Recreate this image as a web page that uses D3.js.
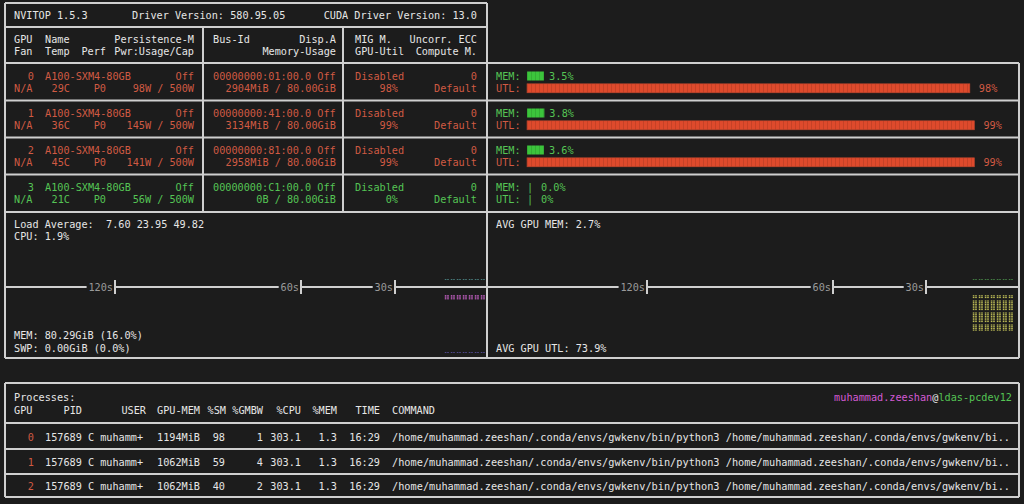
<!DOCTYPE html>
<html>
<head>
<meta charset="utf-8">
<script src="https://cdn.jsdelivr.net/npm/d3@7"></script>
<style>
  body { margin: 0; background: #1c1c1c; }
  svg text { font-family: "DejaVu Sans Mono", monospace; font-size: 10.2px; }
</style>
</head>
<body>
<svg id="term" width="1024" height="504"></svg>
<script>
// ---- data ----
var gpuIds = ["0", "1", "2", "3"];
var gpuNames = ["A100-SXM4-80GB", "A100-SXM4-80GB", "A100-SXM4-80GB", "A100-SXM4-80GB"];
var gpuTemps = ["29C", "36C", "45C", "21C"];
var gpuPower = ["98W / 500W", "145W / 500W", "141W / 500W", "56W / 500W"];
var gpuBus = ["00000000:01:00.0 Off", "00000000:41:00.0 Off", "00000000:81:00.0 Off", "00000000:C1:00.0 Off"];
var gpuMemUsage = ["2904MiB / 80.00GiB", "3134MiB / 80.00GiB", "2958MiB / 80.00GiB", "0B / 80.00GiB"];
var gpuMemPct = [3.5, 3.8, 3.6, 0.0];
var gpuUtilPct = [98, 99, 99, 0];
var gpuBusy = [true, true, true, false];

var axisLabels = ["120s", "60s", "30s"];
var cpuHistory = [1.9, 1.9, 1.9, 1.9, 1.9, 1.9, 1.9];
var memHistory = [16.0, 16.0, 16.0, 16.0, 16.0, 16.0, 16.0];
var swpHistory = [0, 0, 0, 0, 0, 0, 0];
var gpuMemHistory = [2.7, 2.7, 2.7, 2.7, 2.7, 2.7, 2.7];
var gpuUtlHistory = [74, 74, 74, 74, 74, 74, 74];

var procGpu = ["0", "1", "2"];
var procPid = ["157689", "157689", "157689"];
var procMem = ["1194MiB", "1062MiB", "1062MiB"];
var procSm = ["98", "59", "40"];
var procGmbw = ["1", "4", "2"];
var procCpu = ["303.1", "303.1", "303.1"];
var procPmem = ["1.3", "1.3", "1.3"];
var procTime = ["16:29", "16:29", "16:29"];
var procCmd = "/home/muhammad.zeeshan/.conda/envs/gwkenv/bin/python3 /home/muhammad.zeeshan/.conda/envs/gwkenv/bi..";

// ---- drawing ----
var WHITE = "#e6e6e6", RED = "#d05a43", GREEN = "#55c455", BORDER = "#cfcfcf";
var svg = d3.select("#term");
svg.append("rect").attr("width", 1024).attr("height", 504).attr("fill", "#1c1c1c");

var defs = svg.append("defs");
function stripes(id, color) {
  var p = defs.append("pattern").attr("id", id).attr("width", 4).attr("height", 10)
    .attr("patternUnits", "userSpaceOnUse");
  p.append("rect").attr("width", 4).attr("height", 10).attr("fill", color);
  p.append("rect").attr("x", 3.4).attr("width", 0.6).attr("height", 10).attr("fill", "#000").attr("opacity", 0.18);
}
stripes("redbar", "#de4a2c");
stripes("greenbar", "#3cc43c");
// braille-like dot cells: 2 dots wide per 6px column, one row per h px
function dots(id, color, h, rows) {
  var p = defs.append("pattern").attr("id", id).attr("width", 6).attr("height", h)
    .attr("patternUnits", "userSpaceOnUse");
  for (var r = 0; r < rows; r++) {
    p.append("rect").attr("x", 0.8).attr("y", 0.4 + r * 1.7).attr("width", 1.6).attr("height", 1.2).attr("fill", color);
    p.append("rect").attr("x", 3.2).attr("y", 0.4 + r * 1.7).attr("width", 1.6).attr("height", 1.2).attr("fill", color);
  }
}
dots("dotCyan", "#62b8b8", 3, 1);
dots("dotMag", "#c65fc6", 1.7, 1);
dots("dotPurp", "#6b5fd0", 3, 1);
dots("dotGreen", "#5cbf5c", 3, 1);
dots("dotYel", "#bdbc55", 12, 6);

var g = svg.append("g");
function txt(x, y, s, color, anchor) {
  return g.append("text").attr("x", x).attr("y", y + 3.6).attr("fill", color || WHITE)
    .attr("text-anchor", anchor || "start").attr("xml:space", "preserve").text(s);
}
function hline(x1, x2, y) {
  g.append("line").attr("x1", x1).attr("x2", x2).attr("y1", y).attr("y2", y)
    .attr("stroke", BORDER).attr("stroke-width", 2);
}
function vline(x, y1, y2) {
  g.append("line").attr("x1", x).attr("x2", x).attr("y1", y1).attr("y2", y2)
    .attr("stroke", BORDER).attr("stroke-width", 2);
}

// GPU table borders
var rowY = [76, 113, 150, 187];
hline(5, 487, 3); hline(5, 487, 27); hline(5, 1019, 63);
[100.5, 137.5, 174.5].forEach(function (y) { hline(5, 1019, y); });
vline(5, 3, 212); vline(487, 3, 212); vline(1019, 63, 212);
vline(203, 27, 212); vline(343, 27, 212);

txt(14, 15, "NVITOP 1.5.3");
txt(132, 15, "Driver Version: 580.95.05");
txt(477, 15, "CUDA Driver Version: 13.0", WHITE, "end");
txt(14, 39, "GPU"); txt(45, 39, "Name"); txt(194, 39, "Persistence-M", WHITE, "end");
txt(14, 51, "Fan"); txt(45, 51, "Temp"); txt(106, 51, "Perf", WHITE, "end"); txt(194, 51, "Pwr:Usage/Cap", WHITE, "end");
txt(213, 39, "Bus-Id"); txt(336, 39, "Disp.A", WHITE, "end"); txt(336, 51, "Memory-Usage", WHITE, "end");
txt(355, 39, "MIG M."); txt(477, 39, "Uncorr. ECC", WHITE, "end");
txt(355, 51, "GPU-Util"); txt(477, 51, "Compute M.", WHITE, "end");

var xBar = d3.scaleLinear().domain([0, 100]).range([527, 984]);
gpuIds.forEach(function (id, i) {
  var y1 = rowY[i], y2 = rowY[i] + 12.3;
  var c = gpuBusy[i] ? RED : GREEN;
  txt(34, y1, id, c, "end");
  txt(45, y1, gpuNames[i], c);
  txt(194, y1, "Off", c, "end");
  txt(213, y1, gpuBus[i], c);
  txt(355, y1, "Disabled", c);
  txt(477, y1, "0", c, "end");
  txt(14, y2, "N/A", c);
  txt(70, y2, gpuTemps[i], c, "end");
  txt(106, y2, "P0", c, "end");
  txt(194, y2, gpuPower[i], c, "end");
  txt(336, y2, gpuMemUsage[i], c, "end");
  txt(398, y2, gpuUtilPct[i] + "%", c, "end");
  txt(477, y2, "Default", c, "end");

  txt(496, y1, "MEM:", GREEN);
  txt(496, y2, "UTL:", c);
  // MEM bar (at least a few cells wide, as the terminal does)
  if (gpuMemPct[i] > 0) {
    var mEnd = Math.max(xBar(gpuMemPct[i]), 544);
    g.append("rect").attr("x", xBar(0)).attr("y", y1 - 4.5).attr("width", mEnd - xBar(0))
      .attr("height", 9).attr("fill", "url(#greenbar)");
    txt(mEnd + 5, y1, gpuMemPct[i].toFixed(1) + "%", GREEN);
  } else {
    txt(527, y1, "|", GREEN);
    txt(541, y1, gpuMemPct[i].toFixed(1) + "%", GREEN);
  }
  if (gpuUtilPct[i] > 0) {
    var uEnd = xBar(gpuUtilPct[i]) - 5;
    g.append("rect").attr("x", xBar(0)).attr("y", y2 - 4.5).attr("width", uEnd - xBar(0))
      .attr("height", 9).attr("fill", "url(#redbar)")
      .attr("stroke", "#b8442c").attr("stroke-width", 0.6);
    txt(uEnd + 9, y2, gpuUtilPct[i] + "%", c);
  } else {
    txt(527, y2, "|", GREEN);
    txt(541, y2, gpuUtilPct[i] + "%", GREEN);
  }
});

// ---- history panels ----
hline(5, 1019, 212); hline(5, 1019, 358);
vline(5, 212, 358); vline(1019, 212, 358); vline(487, 212, 358);
var axisY = 287;
hline(5, 1019, axisY);
var panels = [
  { x0: 5, tick: [115, 301, 395] },
  { x0: 487, tick: [647, 833, 926] }
];
panels.forEach(function (p) {
  axisLabels.forEach(function (lab, j) {
    g.append("rect").attr("x", p.tick[j] - lab.length * 6.1 - 4).attr("y", axisY - 5)
      .attr("width", lab.length * 6.1 + 3).attr("height", 10).attr("fill", "#1c1c1c");
    txt(p.tick[j] - 2, axisY, lab, "#9a9a9a", "end");
    vline(p.tick[j], axisY - 7, axisY + 7);
  });
});
txt(14, 224, "Load Average:  7.60 23.95 49.82");
txt(14, 236, "CPU: 1.9%");
txt(14, 335, "MEM: 80.29GiB (16.0%)");
txt(14, 348, "SWP: 0.00GiB (0.0%)");
txt(496, 224, "AVG GPU MEM: 2.7%");
txt(496, 348, "AVG GPU UTL: 73.9%");

var colX = d3.scaleBand().domain(d3.range(7)).paddingInner(0);
var upH = d3.scaleLinear().domain([0, 100]).range([0, 60]);
var dnH = d3.scaleLinear().domain([0, 100]).range([0, 64]);
function history(vals, xs, xe, mode, fill, minH) {
  colX.range([xs, xe]);
  vals.forEach(function (v, k) {
    var h, y;
    if (mode === "up") { h = Math.max(minH, upH(v)); y = axisY - 7 - h; }
    else if (mode === "down") { h = Math.max(minH, dnH(v) * 0.45); y = axisY + 8; }
    else { h = Math.max(minH, dnH(v)); y = 354 - h; }
    g.append("rect").attr("x", colX(k)).attr("y", y).attr("width", colX.bandwidth())
      .attr("height", h).attr("fill", fill);
  });
}
history(cpuHistory, 443, 485, "up", "url(#dotCyan)", 2);
history(memHistory, 443, 485, "down", "url(#dotMag)", 2);
history(swpHistory, 443, 485, "bottom", "url(#dotPurp)", 2);
history(gpuMemHistory, 972, 1014, "up", "url(#dotGreen)", 2);
colX.range([972, 1014]);
gpuUtlHistory.forEach(function (v, k) {
  var h = Math.round(dnH(v) * 0.72 / 12) * 12;
  g.append("rect").attr("x", colX(k)).attr("y", axisY + 8).attr("width", colX.bandwidth())
    .attr("height", h).attr("fill", "url(#dotYel)");
});

// ---- processes ----
hline(5, 1019, 383); hline(5, 1019, 423); hline(5, 1019, 449); hline(5, 1019, 474); hline(5, 1019, 497);
vline(5, 383, 497); vline(1019, 383, 497);
txt(14, 397, "Processes:");
var host = g.append("text").attr("x", 1012).attr("y", 397 + 3.6).attr("text-anchor", "end");
host.append("tspan").attr("fill", "#d35ad3").text("muhammad.zeeshan");
host.append("tspan").attr("fill", WHITE).text("@");
host.append("tspan").attr("fill", GREEN).text("ldas-pcdev12");
var hy = 410;
txt(14, hy, "GPU"); txt(82, hy, "PID", WHITE, "end"); txt(146, hy, "USER", WHITE, "end");
txt(200, hy, "GPU-MEM", WHITE, "end"); txt(226, hy, "%SM", WHITE, "end"); txt(263, hy, "%GMBW", WHITE, "end");
txt(301, hy, "%CPU", WHITE, "end"); txt(337, hy, "%MEM", WHITE, "end"); txt(380, hy, "TIME", WHITE, "end");
txt(392, hy, "COMMAND");
var procY = [437, 462, 486];
procGpu.forEach(function (gid, i) {
  var y = procY[i];
  txt(34, y, gid, RED, "end");
  txt(45, y, procPid[i] + " C muhamm+");
  txt(200, y, procMem[i], WHITE, "end");
  txt(225, y, procSm[i], WHITE, "end");
  txt(263, y, procGmbw[i], WHITE, "end");
  txt(301, y, procCpu[i], WHITE, "end");
  txt(337, y, procPmem[i], WHITE, "end");
  txt(380, y, procTime[i], WHITE, "end");
  txt(392, y, procCmd).attr("textLength", 618).attr("lengthAdjust", "spacingAndGlyphs");
});
</script>
</body>
</html>
